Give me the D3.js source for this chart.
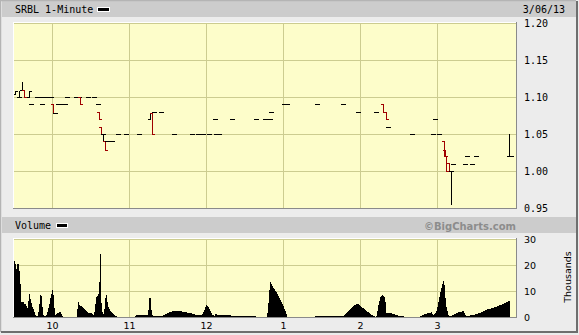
<!DOCTYPE html>
<meta charset="utf-8">
<style>
body { margin: 0; background: #ececec; }
svg { display: block; }
.mono { font-family: 'DejaVu Sans Mono', monospace; font-size: 10px; fill: #000; }
.sans { font-family: 'DejaVu Sans', sans-serif; font-size: 9.5px; fill: #000; }
</style>
<body>
<svg class="chart"></svg>
<script src="https://d3js.org/d3.v7.min.js"></script>
<script>
// chart size
let rwidth = 579, rheight = 335;

// header texts
let symbolTitle = 'SRBL 1-Minute';
let chartDate = '3/06/13';
let volumeTitle = 'Volume';
let volumeUnit = 'Thousands';
let credit = '\u00A9BigCharts.com';

// x axis: minutes after 9:30 open
let sessionMinutes = [0, 390];
let timeTicks = [30, 90, 150, 210, 270, 330];
let timeLabels = ['10', '11', '12', '1', '2', '3'];

// price axis
let priceExtent = [0.95, 1.20];
let priceTicks = [0.95, 1.00, 1.05, 1.10, 1.15, 1.20];

// volume axis (thousands)
let volumeExtent = [0, 30];
let volumeTicks = [0, 10, 20, 30];

// 1-minute bars: [minute, open, high, low, close]
let priceBars = [
  [1.5, 1.104, 1.108, 1.104, 1.108], [4, 1.100, 1.108, 1.100, 1.100],
  [7, 1.109, 1.120, 1.109, 1.109], [8.5, 1.109, 1.109, 1.100, 1.100],
  [12, 1.100, 1.108, 1.100, 1.108], [13.5, 1.090, 1.090, 1.090, 1.090],
  [18, 1.100, 1.100, 1.100, 1.100], [20, 1.100, 1.100, 1.100, 1.100],
  [22.5, 1.090, 1.090, 1.090, 1.090], [24, 1.100, 1.100, 1.100, 1.100],
  [26, 1.100, 1.100, 1.100, 1.100], [28, 1.100, 1.100, 1.100, 1.100],
  [29.5, 1.100, 1.100, 1.100, 1.100], [31, 1.090, 1.090, 1.079, 1.079],
  [32.5, 1.079, 1.079, 1.079, 1.079], [34.3, 1.090, 1.090, 1.090, 1.090],
  [38, 1.090, 1.090, 1.090, 1.090], [40, 1.090, 1.090, 1.090, 1.090],
  [42, 1.100, 1.100, 1.100, 1.100], [49, 1.100, 1.100, 1.100, 1.100],
  [51, 1.100, 1.100, 1.100, 1.100], [52, 1.100, 1.100, 1.090, 1.090],
  [58, 1.100, 1.100, 1.100, 1.100], [63, 1.100, 1.100, 1.100, 1.100],
  [66, 1.090, 1.090, 1.090, 1.090], [67, 1.080, 1.080, 1.070, 1.070],
  [68.5, 1.059, 1.059, 1.050, 1.050], [70, 1.050, 1.050, 1.040, 1.050],
  [71, 1.040, 1.040, 1.029, 1.029], [73, 1.040, 1.040, 1.040, 1.040],
  [75, 1.040, 1.040, 1.040, 1.040], [76.5, 1.040, 1.040, 1.040, 1.040],
  [81.5, 1.050, 1.050, 1.050, 1.050], [87.7, 1.050, 1.050, 1.050, 1.050],
  [97.8, 1.050, 1.050, 1.050, 1.050], [106, 1.070, 1.079, 1.070, 1.079],
  [108, 1.079, 1.079, 1.050, 1.050], [109.5, 1.080, 1.080, 1.080, 1.080],
  [115.3, 1.080, 1.080, 1.080, 1.080], [125, 1.050, 1.050, 1.050, 1.050],
  [139, 1.050, 1.050, 1.050, 1.050], [144, 1.050, 1.050, 1.050, 1.050],
  [146, 1.050, 1.050, 1.050, 1.050], [148, 1.050, 1.050, 1.050, 1.050],
  [152, 1.050, 1.050, 1.050, 1.050], [157, 1.070, 1.070, 1.070, 1.070],
  [158, 1.050, 1.050, 1.050, 1.050], [160, 1.050, 1.050, 1.050, 1.050],
  [170.3, 1.070, 1.070, 1.070, 1.070], [189, 1.070, 1.070, 1.070, 1.070],
  [196, 1.070, 1.070, 1.070, 1.070], [198, 1.070, 1.070, 1.070, 1.070],
  [200, 1.070, 1.070, 1.070, 1.070], [201, 1.080, 1.080, 1.080, 1.080],
  [210.5, 1.090, 1.090, 1.090, 1.090], [213, 1.090, 1.090, 1.090, 1.090],
  [236.5, 1.090, 1.090, 1.090, 1.090], [257, 1.090, 1.090, 1.090, 1.090],
  [268.5, 1.080, 1.080, 1.080, 1.080], [282.7, 1.080, 1.080, 1.080, 1.080],
  [288, 1.090, 1.090, 1.080, 1.080], [290, 1.080, 1.080, 1.070, 1.070],
  [292, 1.060, 1.060, 1.060, 1.060], [310.5, 1.050, 1.050, 1.050, 1.050],
  [327, 1.050, 1.050, 1.050, 1.050], [328.5, 1.070, 1.070, 1.070, 1.070],
  [331.7, 1.050, 1.050, 1.050, 1.050], [335.7, 1.040, 1.040, 1.020, 1.020],
  [336.5, 1.029, 1.029, 1.020, 1.020], [337.3, 1.020, 1.020, 1.000, 1.000],
  [339.6, 1.011, 1.011, 1.000, 1.000], [340.7, 1.000, 1.000, 0.955, 1.000],
  [342.5, 1.010, 1.010, 1.010, 1.010], [351.8, 1.010, 1.010, 1.010, 1.010],
  [353.5, 1.020, 1.020, 1.020, 1.020], [357.3, 1.010, 1.010, 1.010, 1.010],
  [360.5, 1.020, 1.020, 1.020, 1.020], [386, 1.020, 1.050, 1.020, 1.020],
  [387.5, 1.020, 1.020, 1.020, 1.020]
];

// volume profile: [minute, thousands of shares]
let volumeMinutes = [
  0.4, 1.2, 2, 2.7, 3.5, 4.3, 5.1, 5.8, 6.6, 7.4, 8.2, 9, 9.7, 10.5, 11.3, 12.1,
  12.9, 13.6, 14.4, 15.2, 16, 16.8, 18.3, 19.1, 19.9, 20.6, 21.4, 22.2, 23, 23.8,
  25.3, 26.1, 26.9, 27.7, 28.4, 29.2, 30, 30.8, 31.6, 32.3, 33.1, 33.9, 34.7, 35.5,
  36.2, 37, 37.8, 38.6, 49.5, 50.3, 51, 51.8, 53.4, 55, 56.5, 58, 59.6, 61.2, 62.7,
  63.5, 64.3, 65.1, 65.8, 66.6, 67.4, 67.9, 68.4, 69.2, 70.5, 72.1, 72.9, 73.6,
  74.4, 75.2, 76.8, 78.3, 79.9, 81.4, 94.7, 95.5, 98.6, 104.8, 105.6, 106.4, 107.1,
  107.9, 109, 116.3, 119.4, 122, 124.5, 129.7, 133.6, 137.5, 141.4, 145.3, 147.4,
  149, 150.5, 152.1, 153.7, 155.2, 156.8, 157.6, 158.8, 168.7, 170, 188.2, 189.5,
  197.3, 198.3, 199.3, 200.1, 202.4, 205.1, 207.7, 210.2, 212.3, 213.4, 234.9,
  235.7, 257, 259.6, 262.2, 264.8, 267.9, 271.3, 275.2, 279.1, 281.7, 283, 284.3,
  286.1, 287.7, 289.7, 290.3, 294.7, 297.3, 301.2, 309, 316.8, 318.1, 322, 325.9,
  327.1, 328.4, 329.8, 331, 332.3, 333.7, 335.5, 336.5, 337.6, 338.8, 340.2, 342.7,
  345.4, 348, 351, 352.1, 354.4, 358.3, 363.5, 368.7, 373.9, 379.1, 383, 385.6,
  386.6, 387
];
let volumeValues = [
  21.6, 21.2, 19.3, 18, 22.5, 18, 17.7, 8.4, 3.6, 8, 3.6, 6.4, 3.6, 4.4, 2.8, 9.6,
  7.7, 6.4, 4.5, 3.6, 2.6, 0.8, 0.3, 0.3, 3.6, 6.4, 10, 6.4, 1.3, 0.2,
  0.2, 1.3, 2.8, 4.5, 5.8, 8.4, 9.6, 11.2, 5.8, 1.3, 0.6, 1.5, 1.3, 1.9,
  2.3, 1.9, 0.5, 0.1, 0.1, 6.4, 5.1, 4.5, 3.9, 3.2, 2.3, 1.8, 1.5, 1.3, 0.6,
  3.2, 6.4, 8.8, 7.5, 9.6, 16.7, 26, 6.4, 1.9, 0.6, 9.6, 7, 4.5,
  3.2, 2.6, 1.8, 1, 0.4, 0.1, 0.1, 0.8, 0.9, 0.9, 4.5, 10, 5.1,
  0.9, 0.5, 0.5, 1.3, 1.9, 2.3, 2.3, 1.9, 1.5, 1, 0.6, 1,
  3, 4.9, 3.6, 2, 0.8, 0.4, 1.6, 0.8, 0.8, 0.4, 0.4, 0.1,
  0.1, 2.3, 9.5, 13.8, 11.4, 9.4, 6.9, 4.3, 2, 0.1, 0.1,
  0.4, 0.4, 1.7, 3, 4.3, 5.2, 3.9, 2.3, 0.8, 0.1, 0.4, 4.3,
  7.8, 8.6, 7.3, 1.7, 1.4, 1, 0.3, 0.05, 0.05, 0.6, 1.3, 1.8,
  0.6, 1.3, 2.6, 5.2, 8.4, 11.6, 14.6, 7.8, 3.2, 1, 0.3, 0.8,
  1.6, 1.9, 2.3, 0.6, 0.5, 0.8, 1.6, 2.8, 3.6, 4.5, 5.4, 6.1,
  6.2, 0
];

// Colors
let plotFill = '#fdfdca', gridColor = '#cccc90', bandColor = '#cccccc';
let upColor = '#000000', downColor = '#a00000';

// plot frames
let plotLeft = 14, plotRight = 516;
let priceTop = 23, priceBottom = 208;
let volTop = 239, volBottom = 317;

let svg = d3.select('.chart').attr('width', rwidth).attr('height', rheight);

let xscale = d3.scaleLinear().domain(sessionMinutes).range([13.5, 514]);
let yscale = d3.scaleLinear().domain(priceExtent).range([priceBottom, priceTop]);
let vscale = d3.scaleLinear().domain(volumeExtent).range([volBottom, volTop]);

let px = v => Math.round(v) + 0.5;

// outer frame + bands
svg.append('rect').attr('x', 0).attr('y', 0).attr('width', rwidth).attr('height', rheight).attr('fill', '#ececec');
svg.append('rect').attr('x', 2).attr('y', 1).attr('width', 574).attr('height', 16).attr('fill', bandColor);
svg.append('rect').attr('x', 2).attr('y', 217).attr('width', 574).attr('height', 16).attr('fill', bandColor);
svg.append('path').attr('d', `M0.5,${rheight - 3}V0.5H${rwidth - 3}`).attr('stroke', '#b4b4b4').attr('fill', 'none').style('stroke-width', 1.5);
svg.append('path').attr('d', `M1,${rheight - 3}H${rwidth - 2}V1`).attr('stroke', '#6e6e6e').attr('fill', 'none').style('stroke-width', 2);

function panel(top, bottom, ticks, scale) {
  let g = svg.append('g').attr('shape-rendering', 'crispEdges');
  g.append('rect').attr('x', plotLeft).attr('y', top).attr('width', plotRight - plotLeft).attr('height', bottom - top).attr('fill', plotFill);
  g.selectAll('.hg').data(ticks).join('line')
    .attr('x1', plotLeft).attr('x2', plotRight)
    .attr('y1', d => px(scale(d))).attr('y2', d => px(scale(d)))
    .attr('stroke', gridColor);
  g.selectAll('.vg').data(timeTicks).join('line')
    .attr('x1', d => px(xscale(d))).attr('x2', d => px(xscale(d)))
    .attr('y1', top).attr('y2', bottom)
    .attr('stroke', gridColor);
  return g;
}
function frame(top, bottom) {
  let g = svg.append('g').attr('shape-rendering', 'crispEdges');
  g.append('path').attr('d', `M${plotLeft - 0.5},${bottom}V${top - 0.5}H${plotRight}`).attr('stroke', '#fff').attr('fill', 'none');
  g.append('path').attr('d', `M${plotLeft - 1},${bottom + 0.5}H${plotRight + 0.5}V${top - 1}`).attr('stroke', '#8a8a8a').attr('fill', 'none');
}

// price panel
let pg = panel(priceTop, priceBottom, priceTicks, yscale);
let bars = pg.selectAll('.bar').data(priceBars).join('g')
  .attr('stroke', d => d[4] < d[1] ? downColor : upColor);
bars.append('line')
  .attr('x1', d => px(xscale(d[0]))).attr('x2', d => px(xscale(d[0])))
  .attr('y1', d => Math.round(yscale(d[2]))).attr('y2', d => Math.round(yscale(d[3])) + 1);
bars.append('line')
  .attr('x1', d => Math.round(xscale(d[0])) - 2).attr('x2', d => Math.round(xscale(d[0])) + 1)
  .attr('y1', d => px(yscale(d[1]))).attr('y2', d => px(yscale(d[1])));
bars.append('line')
  .attr('x1', d => Math.round(xscale(d[0]))).attr('x2', d => Math.round(xscale(d[0])) + 3)
  .attr('y1', d => px(yscale(d[4]))).attr('y2', d => px(yscale(d[4])));
frame(priceTop, priceBottom);

// volume panel
let vg = panel(volTop, volBottom, volumeTicks, vscale);
let volData = volumeMinutes.map((m, i) => ({ m: m, v: volumeValues[i] }));
vg.append('path').datum(volData)
  .attr('d', d3.area()
    .x(d => xscale(d.m)).y0(vscale(0)).y1(d => vscale(d.v)))
  .attr('fill', '#000');
frame(volTop, volBottom);

// axes (labels only, BigCharts style)
svg.selectAll('.plab').data(priceTicks).join('text').attr('class', 'mono')
  .attr('x', 524).attr('y', d => yscale(d) + 4).text(d => d.toFixed(2));
svg.selectAll('.vlab').data(volumeTicks).join('text').attr('class', 'sans')
  .attr('x', 524).attr('y', d => vscale(d) + 4).text(d => d);
svg.selectAll('.tlab').data(timeTicks).join('text').attr('class', 'sans')
  .attr('x', d => xscale(d) + 0.5).attr('y', 329).attr('text-anchor', 'middle')
  .text((d, i) => timeLabels[i]);
svg.append('text').attr('class', 'sans')
  .attr('transform', 'translate(571,277) rotate(-90)').attr('text-anchor', 'middle')
  .text(volumeUnit);

// titles & legends
svg.append('text').attr('class', 'mono').attr('x', 15).attr('y', 12.5).text(symbolTitle);
svg.append('rect').attr('x', 97.5).attr('y', 7.5).attr('width', 12).attr('height', 4).attr('fill', '#000').attr('stroke', '#fff');
svg.append('text').attr('class', 'mono').attr('x', 565).attr('y', 12.5).attr('text-anchor', 'end').text(chartDate);
svg.append('text').attr('class', 'mono').attr('x', 15).attr('y', 228.5).text(volumeTitle);
svg.append('rect').attr('x', 56.5).attr('y', 223.5).attr('width', 11).attr('height', 4).attr('fill', '#000').attr('stroke', '#fff');
svg.append('text').attr('x', 424).attr('y', 230)
  .attr('textLength', 92).attr('lengthAdjust', 'spacingAndGlyphs')
  .style('font-family', "'DejaVu Sans', sans-serif").style('font-size', '11px').style('font-weight', 'bold')
  .style('fill', '#8c8c8c').text(credit);
</script>
</body>
